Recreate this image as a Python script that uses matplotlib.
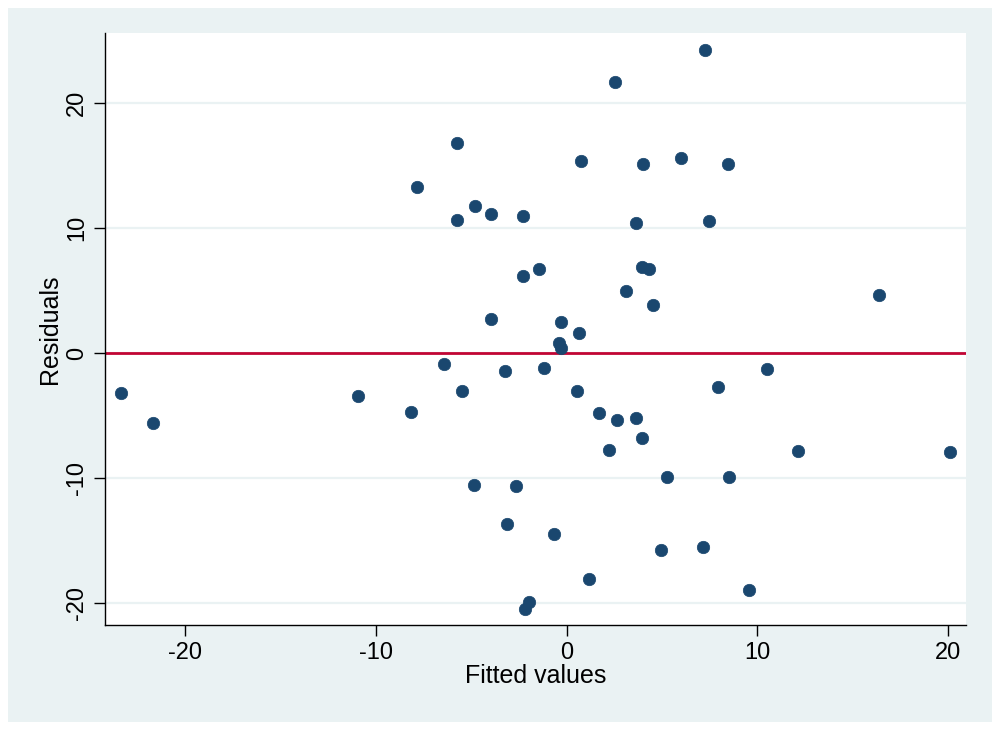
import matplotlib
matplotlib.use("Agg")
import matplotlib.pyplot as plt
from matplotlib.patches import Rectangle

plt.rcParams["font.family"] = ["Liberation Sans", "DejaVu Sans"]
plt.rcParams["axes.unicode_minus"] = False  # plain hyphen like the reference

# fitted values and residuals
fitted = [-23.33, -21.69, -10.93, -8.17, -7.84, -6.42, -5.74, -5.74, -5.49, -4.78,
          -4.85, -3.97, -3.97, -3.21, -3.13, -2.63, -2.30, -2.30, -1.97, -2.18,
          -1.46, -1.18, -0.67, -0.29, -0.38, -0.29, 0.57, 0.64, 0.78, 1.18,
          1.70, 2.21, 2.53, 2.66, 3.10, 3.62, 3.64, 3.94, 3.97, 4.03,
          4.34, 4.52, 4.95, 5.27, 6.00, 7.14, 7.27, 7.47, 7.92, 8.45,
          8.50, 9.58, 10.52, 12.13, 16.36, 20.10]
residuals = [-3.17, -5.63, -3.41, -4.75, 13.28, -0.91, 16.78, 10.64, -3.01, 11.76,
             -10.56, 11.15, 2.70, -1.41, -13.68, -10.67, 10.93, 6.16, -19.90, -20.50,
             6.69, -1.23, -14.45, 2.45, 0.83, 0.43, -3.07, 1.63, 15.33, -18.11,
             -4.83, -7.76, 21.65, -5.33, 4.96, -5.23, 10.43, -6.80, 6.88, 15.09,
             6.69, 3.88, -15.79, -9.92, 15.63, -15.52, 24.26, 10.53, -2.75, 15.15,
             -9.92, -18.96, -1.31, -7.81, 4.64, -7.92]

x_ticks = [-20, -10, 0, 10, 20]
y_ticks = [-20, -10, 0, 10, 20]

fig = plt.figure(figsize=(10, 7.3), dpi=100)
fig.patch.set_facecolor("white")
# Stata-style light blue graph region, kept behind the axes
fig.patches.append(Rectangle((0.008, 0.011), 0.984, 0.978, transform=fig.transFigure,
                             facecolor="#EAF2F3", edgecolor="none", zorder=-10))

ax = fig.add_axes([0.105, 0.1438, 0.861, 0.811])
ax.set_zorder(1)
ax.set_facecolor("white")

ax.scatter(fitted, residuals, s=80, color="#1A476F", edgecolor="#1A476F",
           linewidth=0.5, zorder=3)
ax.axhline(0, color="#C10534", linewidth=2, zorder=2)

ax.set_xlim(-24.19, 20.94)
ax.set_ylim(-21.76, 25.6)
ax.set_xticks(x_ticks)
ax.set_yticks(y_ticks)
ax.grid(axis="y", color="#EAF2F3", linewidth=1.6, zorder=1)
ax.set_axisbelow(True)

for side in ["top", "right"]:
    ax.spines[side].set_visible(False)
for side in ["left", "bottom"]:
    ax.spines[side].set_linewidth(1.0)
    ax.spines[side].set_color("black")

ax.tick_params(axis="both", direction="out", length=8, width=1, labelsize=17, pad=4)
plt.setp(ax.get_yticklabels(), rotation=90, va="center")

ax.set_xlabel("Fitted values", fontsize=18, labelpad=0)
ax.set_ylabel("Residuals", fontsize=18, labelpad=3)

fig.savefig("out.png", dpi=100)
